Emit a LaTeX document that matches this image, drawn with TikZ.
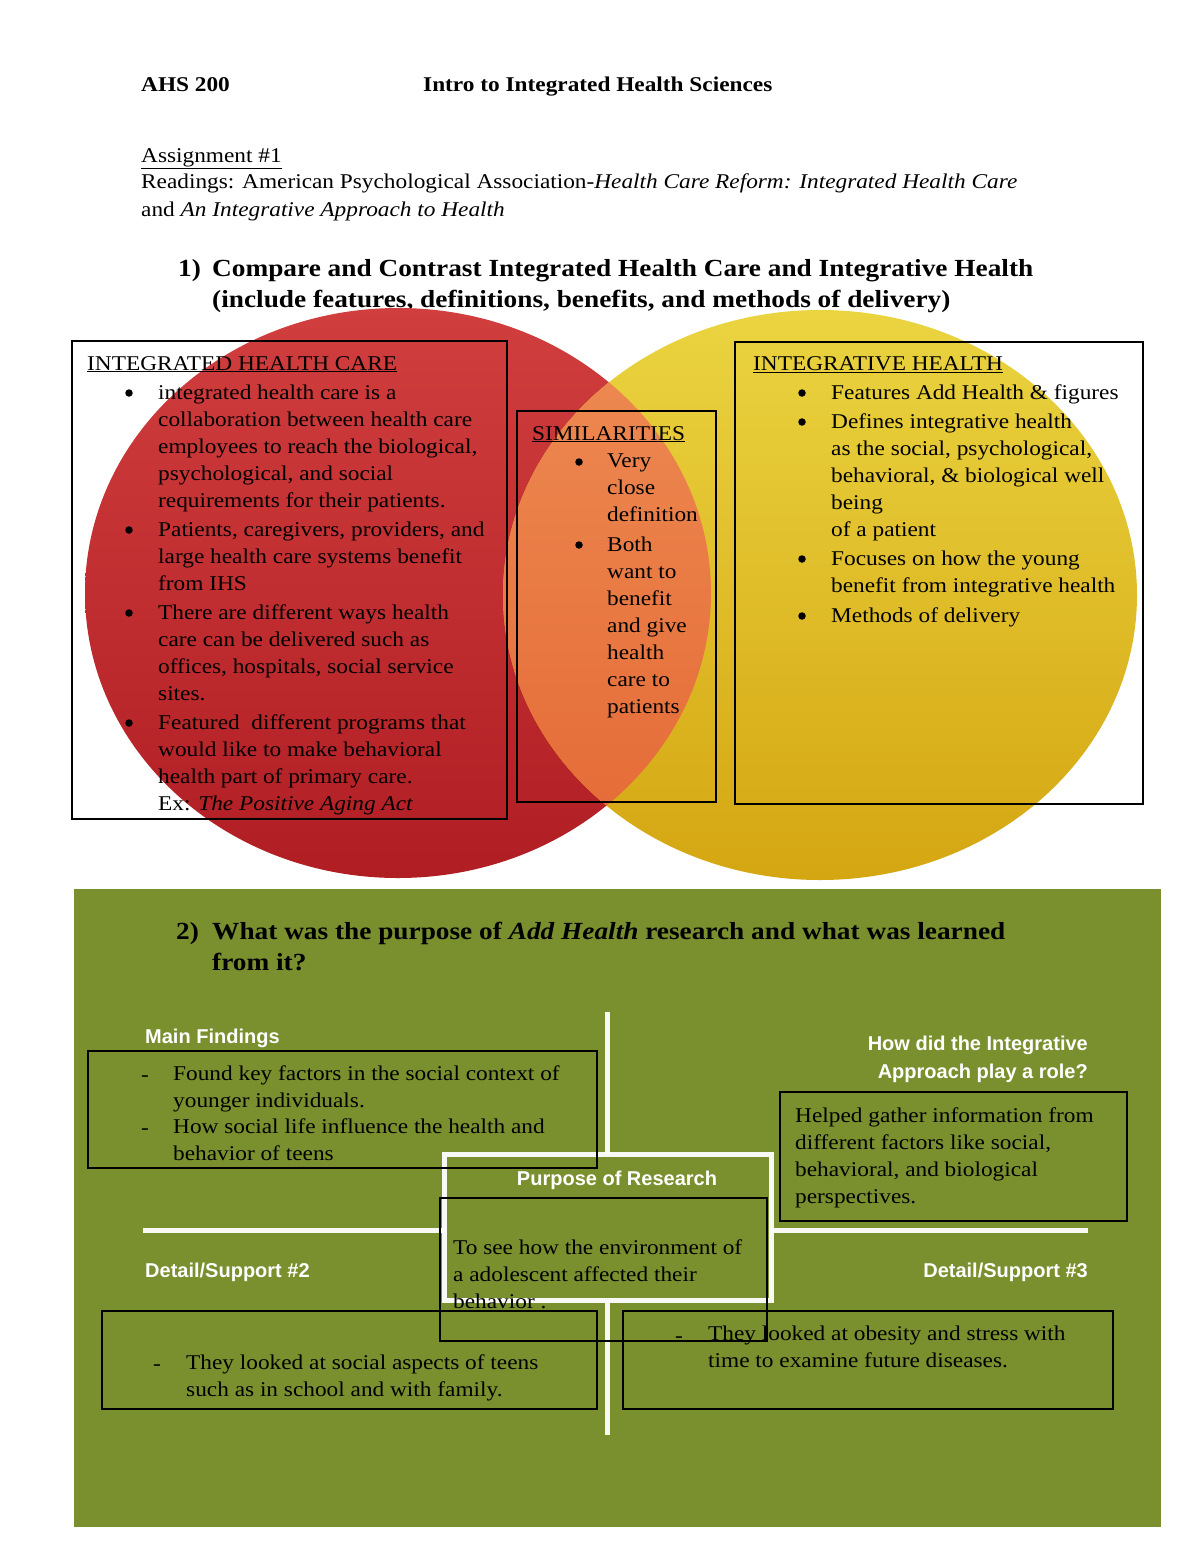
\documentclass[tikz,border=0pt]{standalone}
\usepackage{fontspec}
\setmainfont{Liberation Serif}[FakeStretch=1.11]
\newfontfamily\labsans{Liberation Sans}
\definecolor{redT}{RGB}{208,62,62}
\definecolor{redB}{RGB}{176,30,36}
\definecolor{yelT}{RGB}{234,212,64}
\definecolor{yelB}{RGB}{212,166,18}
\definecolor{orT}{RGB}{238,140,84}
\definecolor{orB}{RGB}{228,104,52}
\definecolor{grn}{RGB}{122,143,46}
\begin{document}
\begin{tikzpicture}[x=1pt,y=-1pt,
  body/.style={font=\fontsize{21}{27}\selectfont, align=left, anchor=north west, inner sep=0pt},
  one/.style={font=\fontsize{21}{27}\selectfont, anchor=base west, inner sep=0pt},
  head/.style={font=\fontsize{24.6}{31}\selectfont\bfseries, anchor=base west, inner sep=0pt},
  bul/.style={circle, fill=black, inner sep=0pt, minimum size=7.5pt},
  dsh/.style={font=\fontsize{21}{27}\selectfont, anchor=center, inner sep=0pt},
  lab/.style={font=\fontsize{20}{28}\selectfont\labsans\bfseries, text=white, inner sep=0pt},
  box/.style={draw=black, line width=1.1pt},
  chalk/.style={draw=white, line width=5pt, opacity=0.95}]
\useasboundingbox (0,0) rectangle (1200,1553);
\fill[white] (0,0) rectangle (1200,1553);

% ---------- header ----------
\node[head, font=\fontsize{21}{27}\selectfont\bfseries] (ahs) at (141,91) {AHS 200};
\node[head, font=\fontsize{21}{27}\selectfont\bfseries] (intro) at (423,91) {Intro to Integrated Health Sciences};
\node[one] (assign) at (141,162) {\underline{Assignment \#1}};
\node[one] (read1) at (141,188) {Readings: American Psychological Association-\textit{Health Care Reform: Integrated Health Care}};
\node[one] (read2) at (141,216) {and \textit{An Integrative Approach to Health}};
\node[head] (q1n) at (178,276) {1)};
\node[head] (q1a) at (212,276) {Compare and Contrast Integrated Health Care and Integrative Health};
\node[head] (q1b) at (212,307) {(include features, definitions, benefits, and methods of delivery)};

% ---------- Venn ----------
\shade[top color=redT, bottom color=redB] (398,593) ellipse [x radius=313, y radius=285];
\shade[top color=yelT, bottom color=yelB] (820,595) ellipse [x radius=317, y radius=285];
\begin{scope}
  \clip (398,593) ellipse [x radius=313, y radius=285];
  \shade[top color=orT, bottom color=orB] (820,595) ellipse [x radius=317, y radius=285];
\end{scope}

% left box
\draw[box] (72,341) rectangle (507,819);
\node[one] (ihct) at (87,370) {\underline{INTEGRATED HEALTH CARE}};
\node[bul] (ib1) at (129,393) {};
\node[body] (it1) at (158,385) {integrated health care is a\\collaboration between health care\\employees to reach the biological,\\psychological, and social\\requirements for their patients.};
\node[bul] (ib2) at (129,530) {};
\node[body] (it2) at (158,522) {Patients, caregivers, providers, and\\large health care systems benefit\\from IHS};
\node[bul] (ib3) at (129,613) {};
\node[body] (it3) at (158,605) {There are different ways health\\care can be delivered such as\\offices, hospitals, social service\\sites.};
\node[bul] (ib4) at (129,723) {};
\node[body] (it4) at (158,715) {Featured \ different programs that\\would like to make behavioral\\health part of primary care.\\Ex: \textit{The Positive Aging Act}};

% similarities box
\draw[box] (517,411) rectangle (716,802);
\node[one] (simt) at (532,440) {\underline{SIMILARITIES}};
\node[bul] (sb1) at (579,462) {};
\node[body] (st1) at (607,454) {Very\\close\\definition};
\node[bul] (sb2) at (579,545) {};
\node[body] (st2) at (607,537) {Both\\want to\\benefit\\and give\\health\\care to\\patients};

% right box
\draw[box] (735,342) rectangle (1143,804);
\node[one] (iht) at (753,370) {\underline{INTEGRATIVE HEALTH}};
\node[bul] (rb1) at (802,393) {};
\node[body] (rt1) at (831,385) {Features Add Health \& figures};
\node[bul] (rb2) at (802,422) {};
\node[body] (rt2) at (831,414) {Defines integrative health\\as the social, psychological,\\behavioral, \& biological well\\being\\of a patient};
\node[bul] (rb3) at (802,559) {};
\node[body] (rt3) at (831,551) {Focuses on how the young\\benefit from integrative health};
\node[bul] (rb4) at (802,616) {};
\node[body] (rt4) at (831,608) {Methods of delivery};

% ---------- green section ----------
\fill[grn] (74,889) rectangle (1161,1527);
\node[head] (q2n) at (176,939) {2)};
\node[head] (q2a) at (212,939) {What was the purpose of \textit{Add Health} research and what was learned};
\node[head] (q2b) at (212,970) {from it?};

% chalk cross and square
\coordinate (vt) at (607,1012);
\coordinate (vb) at (607,1435);
\coordinate (hl) at (143,1230);
\coordinate (hr) at (1088,1230);
\draw[chalk] (vt) -- (607,1154);
\draw[chalk] (607,1300) -- (vb);
\draw[chalk] (hl) -- (444,1230);
\draw[chalk] (771,1230) -- (hr);
\draw[chalk] (444,1154) rectangle (771,1300);

% labels
\node[lab, anchor=base west] (mf) at (145,1043) {Main Findings};
\node[lab, anchor=base east] (how1) at (1088,1050) {How did the Integrative};
\node[lab, anchor=base east] (how2) at (1088,1078) {Approach play a role?};
\node[lab, anchor=base] (por) at (617,1185) {Purpose of Research};
\node[lab, anchor=base west] (ds2) at (145,1277) {Detail/Support \#2};
\node[lab, anchor=base east] (ds3) at (1088,1277) {Detail/Support \#3};

% boxes
\draw[box] (88,1051) rectangle (597,1168);
\node[dsh] (md1) at (145,1079) {-};
\node[body] (mt1) at (173,1065) {Found key factors in the social context of\\younger individuals.};
\node[dsh] (md2) at (145,1132) {-};
\node[body] (mt2) at (173,1118) {How social life influence the health and\\behavior of teens};

\draw[box] (780,1092) rectangle (1127,1221);
\node[body] (hg) at (795,1107) {Helped gather information from\\different factors like social,\\behavioral, and biological\\perspectives.};

\draw[box] (440,1198) rectangle (767,1341);
\node[body] (pt) at (453,1239) {To see how the environment of\\a adolescent affected their\\behavior .};

\draw[box] (102,1311) rectangle (597,1409);
\node[dsh] (d2d) at (157,1368) {-};
\node[body] (d2t) at (186,1354) {They looked at social aspects of teens\\such as in school and with family.};

\draw[box] (623,1311) rectangle (1113,1409);
\node[dsh] (d3d) at (679,1340) {-};
\node[body] (d3t) at (708,1326) {They looked at obesity and stress with\\time to examine future diseases.};
\end{tikzpicture}
\end{document}
